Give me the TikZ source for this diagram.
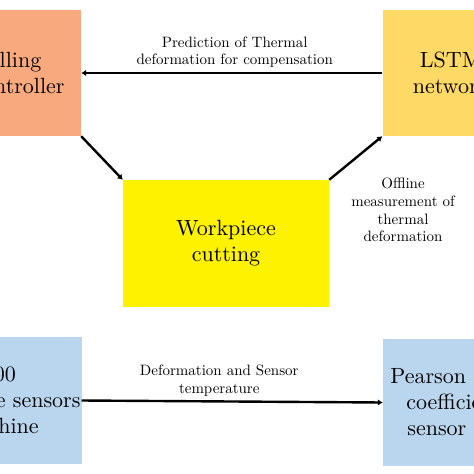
\documentclass[tikz,border=0pt]{standalone}
\usepackage{fontspec}
\setmainfont{lmroman10-regular.otf}
\usepackage{xcolor}
\usepackage{tikz}
\usetikzlibrary{arrows.meta}
\definecolor{salmon}{HTML}{F8A97D}
\definecolor{gold}{HTML}{FFD966}
\definecolor{skyblue}{HTML}{BAD6EF}

\begin{document}
\begin{tikzpicture}[x=1pt, y=-1pt,
    box/.style={rectangle, inner sep=1pt, font=\fontsize{22}{26}\selectfont, align=center},
    note/.style={inner sep=2pt, font=\fontsize{15}{17.7}\selectfont, align=center},
    link/.style={-{Latex[length=5pt,width=6.5pt]}, line width=2.4pt}]
                \useasboundingbox (0,0) rectangle (474,474);
                \clip (0,0) rectangle (474,474);
                \node[box, fill=salmon, minimum width=124pt, minimum height=126pt, align=left] (ctrl) at (19,73) {Milling\\controller};
                \node[box, fill=gold, minimum width=137pt, minimum height=126pt] (lstm) at (451,73) {LSTM\\network};
                \node[box, fill=yellow, minimum width=206pt, minimum height=127pt] (work) at (226,243.5) {Workpiece\\cutting};
                \node[box, fill=skyblue, minimum width=195pt, minimum height=127pt] (sens) at (-16,400.5) {PT100\\temperature sensors\\on machine};
                \node[box, fill=skyblue, minimum width=142pt, minimum height=127pt] (pear) at (454,402.5) {Pearson corr.\\coefficient\\sensor set};
                \node[note] (offline) at (403,210) {Offline\\measurement of\\thermal\\deformation};
                \draw[link] (lstm.west) -- node[note, above, xshift=3pt, yshift=2pt] (pred) {Prediction of Thermal\\deformation for compensation} (ctrl.east);
                \draw[link] (ctrl.south east) -- (work.north west);
                \draw[link] (work.north east) -- (lstm.south west);
                \draw[link] (sens.east) -- node[note, above, xshift=-13pt, yshift=2pt] (data) {Deformation and Sensor\\temperature} (pear.west);
            \end{tikzpicture}
\end{document}
